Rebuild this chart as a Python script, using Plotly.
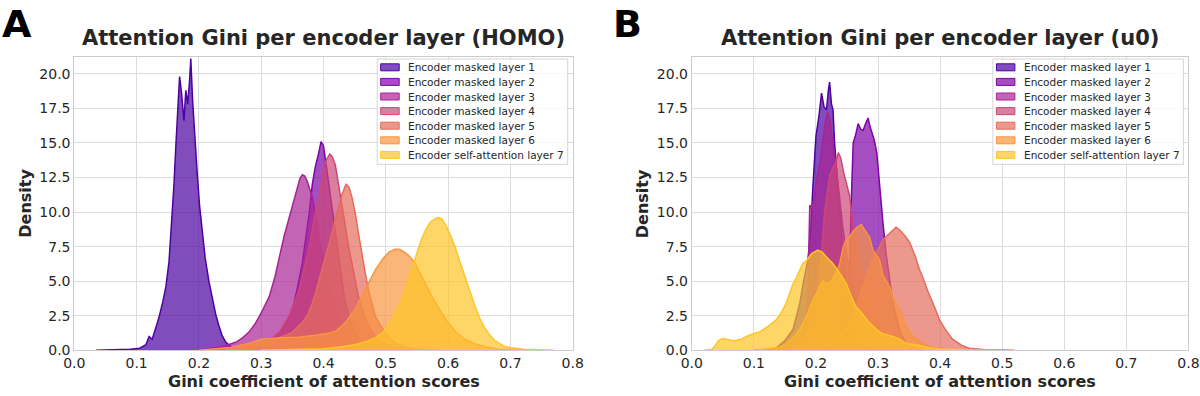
import plotly.graph_objects as go

# ---------------- data ----------------
LABELS = ["Encoder masked layer 1", "Encoder masked layer 2", "Encoder masked layer 3",
          "Encoder masked layer 4", "Encoder masked layer 5", "Encoder masked layer 6",
          "Encoder self-attention layer 7"]
COLORS = ["#4c02a1", "#7e03a8", "#a92395", "#cc4778", "#e66c5c", "#f89540", "#fdc527"]
TITLES = ["Attention Gini per encoder layer (HOMO)", "Attention Gini per encoder layer (u0)"]
PANEL_LETTERS = ["A", "B"]
X_TICKS = [0.0, 0.1, 0.2, 0.3, 0.4, 0.5, 0.6, 0.7, 0.8]
Y_TICKS = [0.0, 2.5, 5.0, 7.5, 10.0, 12.5, 15.0, 17.5, 20.0]
X_LABEL = "Gini coefficient of attention scores"
Y_LABEL = "Density"

# HOMO panel
homo_l1_x = [0.035, 0.06, 0.09, 0.105, 0.115, 0.12, 0.125, 0.13, 0.136, 0.142, 0.147, 0.152, 0.156,
             0.160, 0.163, 0.166, 0.169, 0.172, 0.176, 0.179, 0.182, 0.185, 0.187, 0.190, 0.193,
             0.197, 0.201, 0.205, 0.210, 0.216, 0.222, 0.227, 0.232, 0.237, 0.243, 0.25, 0.26, 0.28]
homo_l1_y = [0.0, 0.03, 0.08, 0.15, 0.4, 1.0, 0.8, 1.5, 2.4, 3.5, 4.6, 6.4, 9.0,
             12.0, 14.8, 17.0, 19.8, 18.7, 16.6, 18.8, 17.8, 19.5, 21.1, 18.0, 15.6,
             13.0, 10.5, 8.6, 6.7, 5.0, 3.6, 2.6, 1.8, 1.1, 0.6, 0.3, 0.1, 0.0]

homo_l2_x = [0.22, 0.26, 0.29, 0.30, 0.318, 0.334, 0.343, 0.35, 0.358, 0.366, 0.372, 0.377, 0.382,
             0.387, 0.392, 0.396, 0.400, 0.404, 0.409, 0.414, 0.419, 0.425, 0.430, 0.435, 0.443,
             0.451, 0.46, 0.467, 0.48, 0.50, 0.55]
homo_l2_y = [0.0, 0.1, 0.3, 0.4, 0.8, 1.5, 2.2, 2.9, 4.5, 6.3, 8.3, 9.9, 12.0,
             13.3, 14.2, 15.1, 14.8, 13.5, 11.7, 9.9, 8.3, 6.3, 4.8, 3.4, 2.2,
             1.2, 0.7, 0.4, 0.15, 0.05, 0.0]

homo_l3_x = [0.20, 0.24, 0.26, 0.27, 0.28, 0.29, 0.30, 0.313, 0.322, 0.329, 0.337, 0.345, 0.35,
             0.356, 0.362, 0.366, 0.370, 0.374, 0.378, 0.382, 0.388, 0.393, 0.398, 0.404, 0.41,
             0.42, 0.428, 0.436, 0.446, 0.457, 0.47, 0.50]
homo_l3_y = [0.0, 0.3, 0.6, 0.9, 1.3, 1.9, 2.7, 3.9, 5.3, 6.8, 8.3, 9.6, 10.4,
             11.5, 12.4, 12.7, 12.6, 12.2, 11.6, 11.1, 9.6, 8.0, 6.8, 5.6, 4.3,
             2.9, 2.2, 1.5, 0.9, 0.55, 0.25, 0.05]

homo_l4_x = [0.25, 0.29, 0.3125, 0.329, 0.345, 0.353, 0.361, 0.366, 0.3715, 0.377, 0.382, 0.387,
             0.393, 0.397, 0.4005, 0.405, 0.410, 0.414, 0.419, 0.4245, 0.430, 0.435, 0.440,
             0.4455, 0.451, 0.456, 0.464, 0.472, 0.480, 0.488, 0.50, 0.51, 0.53]
homo_l4_y = [0.0, 0.3, 0.7, 1.3, 2.5, 3.4, 4.4, 5.3, 6.3, 7.5, 8.7, 10.0,
             11.1, 12.3, 13.3, 13.8, 14.2, 14.0, 13.4, 11.9, 10.5, 9.0, 7.6,
             6.3, 5.0, 3.9, 2.8, 1.8, 1.2, 0.8, 0.4, 0.2, 0.05]

homo_l5_x = [0.24, 0.28, 0.30, 0.3235, 0.35, 0.366, 0.375, 0.382, 0.388, 0.393, 0.398, 0.4035,
             0.409, 0.414, 0.419, 0.4245, 0.430, 0.436, 0.441, 0.446, 0.451, 0.456, 0.462,
             0.467, 0.472, 0.478, 0.483, 0.491, 0.499, 0.507, 0.515, 0.53, 0.55, 0.58]
homo_l5_y = [0.0, 0.3, 0.5, 0.8, 1.3, 2.0, 2.6, 3.4, 4.2, 5.1, 5.9, 6.8,
             7.7, 8.5, 9.5, 10.4, 11.3, 12.0, 11.8, 11.0, 9.9, 8.5, 6.8,
             5.6, 4.4, 3.4, 2.5, 1.8, 1.3, 0.85, 0.55, 0.25, 0.1, 0.0]

homo_l6_x = [0.20, 0.25, 0.28, 0.30, 0.33, 0.36, 0.39, 0.41, 0.42, 0.435, 0.451, 0.467, 0.483,
             0.495, 0.505, 0.515, 0.522, 0.53, 0.538, 0.547, 0.56, 0.574, 0.587, 0.60, 0.613,
             0.627, 0.645, 0.66, 0.68, 0.70, 0.73]
homo_l6_y = [0.0, 0.2, 0.5, 0.8, 0.9, 0.95, 1.1, 1.25, 1.4, 2.0, 3.0, 4.4, 5.8,
             6.6, 7.1, 7.3, 7.3, 7.1, 6.8, 6.3, 5.1, 3.9, 2.9, 2.0, 1.3,
             0.8, 0.45, 0.25, 0.1, 0.04, 0.0]

homo_l7_x = [0.30, 0.36, 0.40, 0.43, 0.45, 0.47, 0.483, 0.493, 0.501, 0.509, 0.517, 0.525, 0.533,
             0.541, 0.549, 0.557, 0.565, 0.572, 0.579, 0.584, 0.59, 0.597, 0.604, 0.611, 0.619,
             0.627, 0.635, 0.643, 0.651, 0.659, 0.667, 0.675, 0.69, 0.70, 0.72, 0.75, 0.77]
homo_l7_y = [0.0, 0.05, 0.12, 0.25, 0.4, 0.65, 0.9, 1.2, 1.6, 2.2, 2.9, 3.6, 4.7,
             5.8, 6.9, 8.0, 8.8, 9.3, 9.5, 9.6, 9.5, 9.0, 8.3, 7.5, 6.4,
             5.3, 4.2, 3.2, 2.3, 1.6, 1.1, 0.7, 0.3, 0.2, 0.08, 0.02, 0.0]

# u0 panel
u0_l1_x = [0.10, 0.13, 0.137, 0.15, 0.158, 0.163, 0.174, 0.18, 0.187, 0.192, 0.195, 0.2, 0.205,
           0.209, 0.213, 0.217, 0.220, 0.222, 0.225, 0.2275, 0.230, 0.233, 0.238, 0.244, 0.25,
           0.254, 0.26, 0.265, 0.272, 0.281, 0.29, 0.30, 0.32]
u0_l1_y = [0.0, 0.1, 0.2, 0.7, 1.2, 1.5, 3.4, 5.0, 6.5, 9.0, 11.8, 15.5, 17.0,
           18.6, 17.6, 17.4, 18.8, 19.4, 17.8, 17.4, 15.0, 13.0, 10.4, 7.0, 4.5,
           3.3, 2.0, 1.2, 0.6, 0.3, 0.15, 0.05, 0.0]

u0_l2_x = [0.18, 0.21, 0.233, 0.244, 0.25, 0.254, 0.257, 0.26, 0.264, 0.268, 0.272, 0.276, 0.28,
           0.284, 0.287, 0.29, 0.294, 0.298, 0.303, 0.308, 0.313, 0.318, 0.324, 0.33, 0.335,
           0.345, 0.355, 0.37]
u0_l2_y = [0.0, 0.1, 0.4, 1.9, 3.2, 5.5, 11.0, 15.0, 15.6, 16.4, 16.0, 15.9, 16.4,
           16.8, 16.2, 15.8, 15.2, 14.3, 11.4, 9.2, 7.0, 5.3, 3.4, 2.3, 1.4,
           0.5, 0.2, 0.0]

u0_l3_x = [0.12, 0.16, 0.175, 0.183, 0.187, 0.19, 0.193, 0.197, 0.202, 0.207, 0.212, 0.216, 0.219,
           0.223, 0.227, 0.232, 0.237, 0.243, 0.25, 0.257, 0.265, 0.273, 0.281, 0.29, 0.30,
           0.32, 0.34]
u0_l3_y = [0.0, 0.3, 0.8, 1.8, 4.0, 10.5, 10.2, 11.0, 12.5, 13.8, 15.5, 16.8, 17.2,
           16.5, 15.0, 13.5, 11.5, 9.0, 6.8, 4.8, 3.2, 2.1, 1.4, 0.8, 0.4,
           0.1, 0.0]

u0_l4_x = [0.14, 0.17, 0.185, 0.195, 0.203, 0.209, 0.214, 0.218, 0.222, 0.227, 0.232, 0.236,
           0.240, 0.245, 0.250, 0.254, 0.259, 0.265, 0.270, 0.276, 0.281, 0.289, 0.297, 0.305,
           0.313, 0.325, 0.34, 0.36]
u0_l4_y = [0.0, 0.4, 1.2, 2.5, 4.3, 7.0, 10.0, 11.5, 12.6, 13.2, 13.6, 14.3,
           13.9, 12.8, 12.0, 11.2, 9.5, 7.8, 6.5, 5.3, 4.1, 3.0, 2.2, 1.5,
           1.0, 0.5, 0.2, 0.0]

u0_l5_x = [0.15, 0.2, 0.22, 0.238, 0.25, 0.26, 0.27, 0.281, 0.29, 0.297, 0.303, 0.308, 0.315,
           0.322, 0.329, 0.335, 0.343, 0.351, 0.36, 0.367, 0.372, 0.38, 0.388, 0.394, 0.399,
           0.41, 0.42, 0.435, 0.447, 0.47, 0.50, 0.52]
u0_l5_y = [0.0, 0.2, 0.5, 1.0, 1.6, 2.4, 3.8, 5.4, 6.4, 7.0, 7.6, 8.0, 8.3,
           8.6, 8.9, 8.7, 8.3, 7.8, 6.8, 5.8, 5.3, 4.3, 3.5, 2.8, 2.2,
           1.4, 0.8, 0.35, 0.15, 0.05, 0.02, 0.0]

u0_l6_x = [0.10, 0.14, 0.15, 0.165, 0.175, 0.185, 0.195, 0.203, 0.211, 0.218, 0.225, 0.232,
           0.238, 0.244, 0.249, 0.254, 0.26, 0.266, 0.273, 0.28, 0.286, 0.292, 0.302, 0.308,
           0.319, 0.324, 0.335, 0.345, 0.356, 0.372, 0.39, 0.42]
u0_l6_y = [0.0, 0.2, 0.4, 1.0, 1.6, 2.5, 3.6, 4.3, 5.0, 4.8, 5.0, 5.6,
           6.2, 7.5, 8.0, 8.2, 8.6, 8.9, 9.1, 8.6, 8.2, 7.2, 6.6, 5.4,
           4.6, 3.8, 2.9, 1.8, 1.0, 0.5, 0.2, 0.0]

u0_l7_x = [0.02, 0.032, 0.038, 0.043, 0.05, 0.055, 0.067, 0.08, 0.088, 0.099, 0.108, 0.115,
           0.125, 0.136, 0.145, 0.152, 0.158, 0.163, 0.169, 0.179, 0.185, 0.193, 0.203, 0.21,
           0.222, 0.227, 0.238, 0.249, 0.254, 0.265, 0.27, 0.286, 0.30, 0.308, 0.324, 0.335,
           0.345, 0.362, 0.38, 0.40, 0.45, 0.5]
u0_l7_y = [0.0, 0.05, 0.35, 0.7, 0.85, 0.8, 0.7, 0.8, 1.0, 1.2, 1.3, 1.5,
           1.8, 2.2, 2.8, 3.4, 4.2, 4.8, 5.3, 6.3, 6.5, 7.0, 7.25, 7.1,
           6.5, 6.3, 5.6, 4.8, 4.2, 3.1, 2.9, 2.0, 1.4, 1.2, 1.0, 0.8,
           0.5, 0.4, 0.2, 0.1, 0.03, 0.0]

HOMO_SERIES = [(homo_l1_x, homo_l1_y), (homo_l2_x, homo_l2_y), (homo_l3_x, homo_l3_y),
               (homo_l4_x, homo_l4_y), (homo_l5_x, homo_l5_y), (homo_l6_x, homo_l6_y),
               (homo_l7_x, homo_l7_y)]
U0_SERIES = [(u0_l1_x, u0_l1_y), (u0_l2_x, u0_l2_y), (u0_l3_x, u0_l3_y),
             (u0_l4_x, u0_l4_y), (u0_l5_x, u0_l5_y), (u0_l6_x, u0_l6_y),
             (u0_l7_x, u0_l7_y)]

# ---------------- layout helpers ----------------
W, H = 1200, 396
FONT = "DejaVu Sans"
TXT = "#262626"
GRID = "#dcdcdc"
ALPHA = 0.7


def px(v):
    return v / W


def py(v):
    return 1 - v / H


def rgba(hexc, a):
    h = hexc.lstrip("#")
    r, g, b = int(h[0:2], 16), int(h[2:4], 16), int(h[4:6], 16)
    return f"rgba({r},{g},{b},{a})"


AX_TOP, AX_BOT = 56.5, 350.3
PANELS = [
    dict(x0=74.3, x1=572.7, series=HOMO_SERIES, xa="x", ya="y"),
    dict(x0=691.8, x1=1188.4, series=U0_SERIES, xa="x2", ya="y2"),
]
LETTER_X = [0, 611]

fig = go.Figure()
shapes, annotations = [], []

for i, p in enumerate(PANELS):
    for (xs, ys), col, lab in zip(p["series"], COLORS, LABELS):
        fig.add_trace(go.Scatter(
            x=xs, y=ys, mode="lines", fill="tozeroy",
            fillcolor=rgba(col, ALPHA), line=dict(color=col, width=1.5),
            name=lab, showlegend=False, xaxis=p["xa"], yaxis=p["ya"],
            hoverinfo="skip"))

    sfx = "" if i == 0 else "2"
    axis_common = dict(showgrid=True, gridcolor=GRID, gridwidth=1, zeroline=False,
                       showline=True, linecolor="#cccccc", linewidth=1, mirror=True,
                       ticks="", tickfont=dict(family=FONT, size=14, color=TXT),
                       tickformat=".1f", automargin=False, ticklabeloverflow="allow")
    fig.layout["xaxis" + sfx] = dict(domain=[px(p["x0"]), px(p["x1"])], range=[0, 0.8],
                                     tickvals=X_TICKS, anchor="y" + sfx, **axis_common)
    fig.layout["yaxis" + sfx] = dict(domain=[py(AX_BOT), py(AX_TOP)], range=[0, 21.25],
                                     tickvals=Y_TICKS, anchor="x" + sfx, **axis_common)

    cx = (p["x0"] + p["x1"]) / 2
    # title
    annotations.append(dict(text=f"<b>{TITLES[i]}</b>", x=px(cx), y=py(52), xref="paper",
                            yref="paper", xanchor="center", yanchor="bottom", showarrow=False,
                            font=dict(family=FONT, size=21, color=TXT)))
    # x label
    annotations.append(dict(text=f"<b>{X_LABEL}</b>", x=px(cx), y=py(381), xref="paper",
                            yref="paper", xanchor="center", yanchor="middle", showarrow=False,
                            font=dict(family=FONT, size=16, color=TXT)))
    # y label
    annotations.append(dict(text=f"<b>{Y_LABEL}</b>", x=px(p["x0"] - 49), y=py((AX_TOP + AX_BOT) / 2),
                            xref="paper", yref="paper", xanchor="center", yanchor="middle",
                            textangle=-90, showarrow=False,
                            font=dict(family=FONT, size=16, color=TXT)))
    # panel letter
    annotations.append(dict(text=f"<b>{PANEL_LETTERS[i]}</b>", x=px(LETTER_X[i]), y=py(0),
                            xref="paper", yref="paper", xanchor="left", yanchor="top",
                            showarrow=False, font=dict(family=FONT, size=38, color="black")))

    # legend (drawn manually to match matplotlib geometry)
    bx1 = p["x1"] - 5
    bx0 = bx1 - 190.5
    by0, by1 = 59, 164.3
    shapes.append(dict(type="rect", xref="paper", yref="paper", x0=px(bx0), x1=px(bx1),
                       y0=py(by1), y1=py(by0), line=dict(color="#d5d5d5", width=1),
                       fillcolor="rgba(255,255,255,0.8)", layer="above"))
    for k, (col, lab) in enumerate(zip(COLORS, LABELS)):
        cy = 67.3 + k * 14.6
        shapes.append(dict(type="rect", xref="paper", yref="paper",
                           x0=px(bx0 + 3.5), x1=px(bx0 + 22), y0=py(cy + 3.5), y1=py(cy - 3.5),
                           line=dict(color=col, width=1), fillcolor=rgba(col, ALPHA),
                           layer="above"))
        annotations.append(dict(text=lab, x=px(bx0 + 29), y=py(cy), xref="paper", yref="paper",
                                xanchor="left", yanchor="middle", showarrow=False,
                                font=dict(family=FONT, size=10.5, color=TXT)))

fig.update_layout(width=W, height=H, margin=dict(l=0, r=0, t=0, b=0),
                  plot_bgcolor="white", paper_bgcolor="white",
                  shapes=shapes, annotations=annotations, showlegend=False,
                  font=dict(family=FONT, color=TXT))

fig.write_html("out.html", config={"displayModeBar": False},
               post_script="document.body.style.margin='0';document.body.style.overflow='hidden';")
